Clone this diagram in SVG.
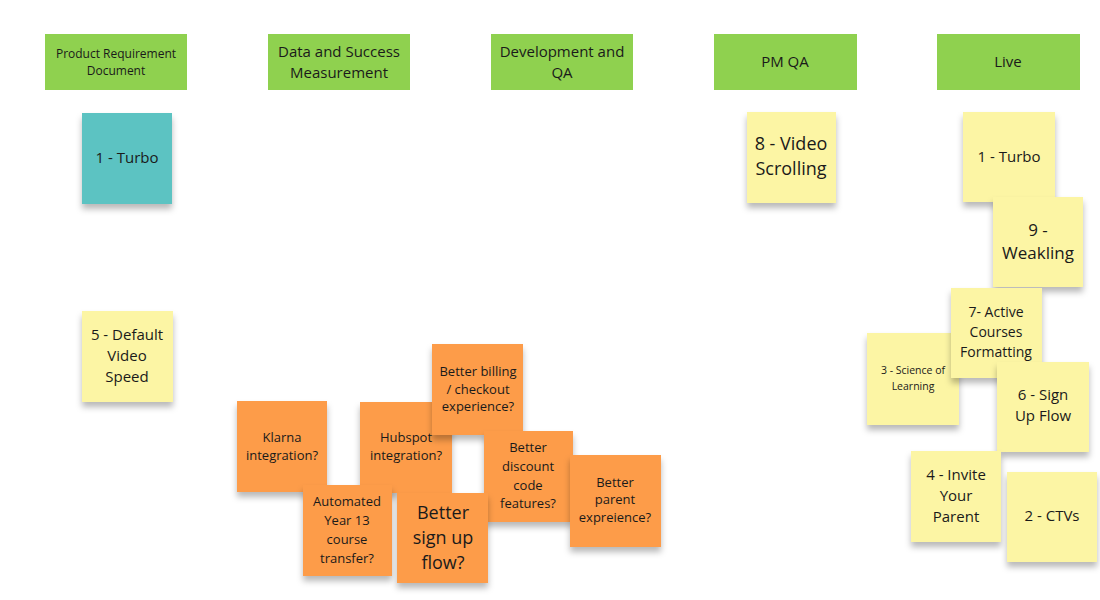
<svg xmlns="http://www.w3.org/2000/svg" width="1100" height="600" viewBox="0 0 1100 600">
<defs>
<filter id="sh" x="-20%" y="-20%" width="140%" height="150%"><feDropShadow dx="0" dy="5" stdDeviation="3" flood-color="#000" flood-opacity="0.28"/></filter>
</defs>
<style>
text{font-family:"Open Sans","Liberation Sans",sans-serif;fill:#1a1a1a;text-anchor:middle}
.h{fill:#8fd14f}
.y{fill:#fcf5a4;filter:url(#sh)}
.o{fill:#fd9c4a;filter:url(#sh)}
.t{fill:#5cc3c2;filter:url(#sh)}
</style>
<rect width="1100" height="600" fill="#fff"/>
<g id="h1"><rect class="h" x="45" y="34" width="142" height="56"/><text x="116" y="58" font-size="12">Product Requirement</text><text x="116" y="75" font-size="12">Document</text></g>
<g id="h2"><rect class="h" x="268" y="34" width="142" height="56"/><text x="339" y="57" font-size="15">Data and Success</text><text x="339" y="78" font-size="15">Measurement</text></g>
<g id="h3"><rect class="h" x="491" y="34" width="142" height="56"/><text x="562" y="57" font-size="15">Development and</text><text x="562" y="78" font-size="15">QA</text></g>
<g id="h4"><rect class="h" x="714" y="34" width="143" height="56"/><text x="785" y="67" font-size="15">PM QA</text></g>
<g id="h5"><rect class="h" x="937" y="34" width="143" height="56"/><text x="1008" y="67" font-size="15">Live</text></g>
<g id="n1"><rect class="t" x="82" y="113" width="90" height="91"/><text x="127" y="163" font-size="15">1 - Turbo</text></g>
<g id="n5"><rect class="y" x="82" y="311" width="91" height="91"/><text x="127" y="340" font-size="15">5 - Default</text><text x="127" y="361" font-size="15">Video</text><text x="127" y="382" font-size="15">Speed</text></g>
<g id="n8"><rect class="y" x="747" y="112" width="89" height="91"/><text x="791" y="150" font-size="18">8 - Video</text><text x="791" y="175" font-size="18">Scrolling</text></g>
<g id="klarna"><rect class="o" x="237" y="401" width="90" height="91"/><text x="282" y="442" font-size="13">Klarna</text><text x="282" y="460" font-size="13">integration?</text></g>
<g id="hubspot"><rect class="o" x="360" y="402" width="92" height="91"/><text x="406" y="442" font-size="13">Hubspot</text><text x="406" y="460" font-size="13">integration?</text></g>
<g id="billing"><rect class="o" x="432" y="344" width="91" height="91"/><text x="478" y="376" font-size="13">Better billing</text><text x="478" y="394" font-size="13">/ checkout</text><text x="478" y="411" font-size="13">experience?</text></g>
<g id="discount"><rect class="o" x="484" y="431" width="89" height="91"/><text x="528" y="452" font-size="13">Better</text><text x="528" y="471" font-size="13">discount</text><text x="528" y="490" font-size="13">code</text><text x="528" y="508" font-size="13">features?</text></g>
<g id="parent"><rect class="o" x="570" y="455" width="91" height="92"/><text x="615" y="487" font-size="13">Better</text><text x="615" y="504" font-size="13">parent</text><text x="615" y="522" font-size="13">expreience?</text></g>
<g id="automated"><rect class="o" x="303" y="485" width="89" height="91"/><text x="347" y="506" font-size="13">Automated</text><text x="347" y="525" font-size="13">Year 13</text><text x="347" y="544" font-size="13">course</text><text x="347" y="563" font-size="13">transfer?</text></g>
<g id="signup"><rect class="o" x="397" y="493" width="91" height="90"/><text x="443" y="519" font-size="18">Better</text><text x="443" y="544" font-size="18">sign up</text><text x="443" y="569" font-size="18">flow?</text></g>
<g id="l1"><rect class="y" x="963" y="112" width="92" height="90"/><text x="1009" y="162" font-size="15">1 - Turbo</text></g>
<g id="l9"><rect class="y" x="993" y="197" width="90" height="90"/><text x="1038" y="236" font-size="17">9 -</text><text x="1038" y="259" font-size="17">Weakling</text></g>
<g id="l3"><rect class="y" x="867" y="333" width="92" height="92"/><text x="913" y="374" font-size="10.5">3 - Science of</text><text x="913" y="390" font-size="10.5">Learning</text></g>
<g id="l7"><rect class="y" x="951" y="288" width="91" height="90"/><text x="996" y="317" font-size="14">7- Active</text><text x="996" y="337" font-size="14">Courses</text><text x="996" y="357" font-size="14">Formatting</text></g>
<g id="l6"><rect class="y" x="997" y="362" width="92" height="90"/><text x="1043" y="400" font-size="15">6 - Sign</text><text x="1043" y="421" font-size="15">Up Flow</text></g>
<g id="l4"><rect class="y" x="911" y="451" width="90" height="91"/><text x="956" y="480" font-size="15">4 - Invite</text><text x="956" y="501" font-size="15">Your</text><text x="956" y="522" font-size="15">Parent</text></g>
<g id="l2"><rect class="y" x="1007" y="472" width="90" height="90"/><text x="1052" y="521" font-size="15">2 - CTVs</text></g>
<g id="connectors"/>
</svg>
